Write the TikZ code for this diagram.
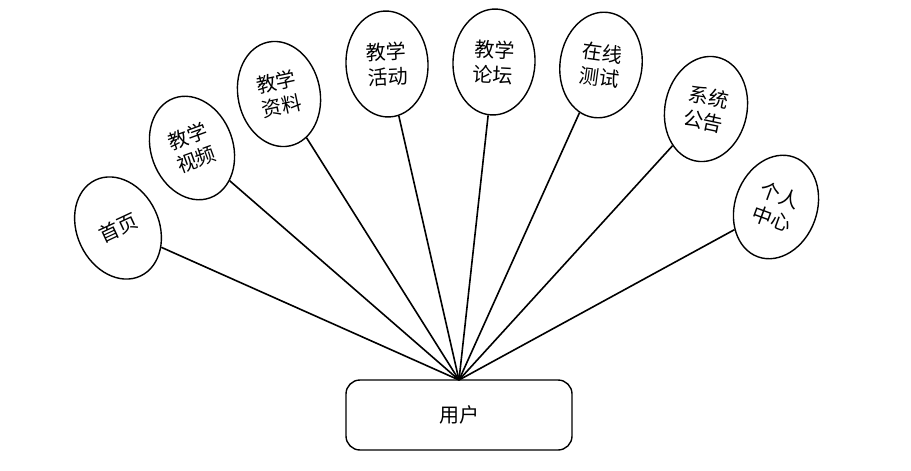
\documentclass[tikz,border=0pt]{standalone}
\usepackage{fontspec}
\newfontfamily\cjk{Noto Sans CJK SC}
\usetikzlibrary{shapes.geometric}
\begin{document}
\begin{tikzpicture}[x=1pt,y=-1pt,
  ell/.style={draw,line width=1.4pt,ellipse,minimum width=82pt,minimum height=106pt,inner sep=0pt,align=center,font=\cjk\fontsize{20}{25}\selectfont},
  ubox/.style={draw,line width=1.4pt,rounded corners=14pt,minimum width=226pt,minimum height=70pt,font=\cjk\fontsize{20}{24}\selectfont},
  link/.style={line width=1.6pt}]
\useasboundingbox (0,0) rectangle (911,471);
\node[ubox] (u) at (459,415) {用户};
\node[ell,rotate=25] (e1) at (118,228) {首页};
\node[ell,rotate=20] (e2) at (192,148) {教学\\视频};
\node[ell,rotate=12] (e3) at (279,94) {教学\\资料};
\node[ell,rotate=3] (e4) at (387,64) {教学\\活动};
\node[ell,rotate=-3] (e5) at (494,62) {教学\\论坛};
\node[ell,rotate=-8] (e6) at (601,65) {在线\\测试};
\node[ell,rotate=-12] (e7) at (706,109) {系统\\公告};
\node[ell,rotate=-20] (e8) at (776,207) {个人\\中心};
\coordinate (t) at (459,380);
\foreach \i in {1,...,8} \draw[link] (t) -- (e\i);
\end{tikzpicture}
\end{document}
